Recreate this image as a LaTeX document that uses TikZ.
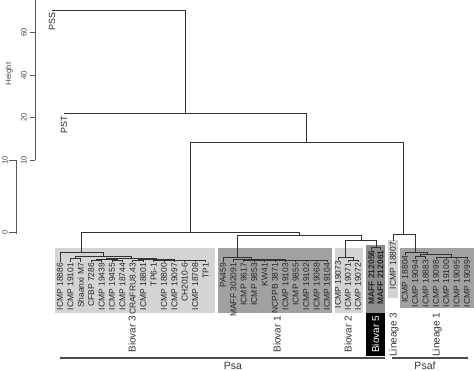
\documentclass[tikz,border=0pt]{standalone}
\usepackage{fontspec}
\setmainfont{Liberation Sans}
\usepackage{tikz}
\usetikzlibrary{arrows}

\begin{document}
\begin{tikzpicture}[x=1pt, y=-1pt, line width=0.8pt]
    \tikzset{
       leaf/.style={rotate=90, anchor=east, inner sep=0.6pt,
                    font=\fontsize{8.5}{9}\selectfont, text=black!85},
       group/.style={rotate=90, anchor=west, inner sep=0pt,
                     font=\fontsize{10}{11}\selectfont, text=black!80},
       tick/.style={rotate=90, inner sep=0pt,
                    font=\fontsize{7.8}{8}\selectfont, text=black!70},
       branch/.style={every edge/.style={draw=black!80, line width=1pt,
                      to path={-| (\tikztotarget)}}},
       axis/.style={draw=black!65, line width=0.9pt},
       clade/.style={draw=black!70, line width=1.4pt},
       light/.style={fill=black!17},
       dark/.style={fill=black!37},
    };
    \useasboundingbox (0,0) rectangle (474,370);
    %--------------------
    % shaded groups
    \fill[light]    (55,248)  rectangle (215,313);
    \fill[dark]     (218,248) rectangle (332,313);
    \fill[light]    (335,248) rectangle (363,313);
    \fill[black!45] (366,245) rectangle (385,313);
    \fill[light]    (388,240) rectangle (398,298);
    \fill[dark]     (400,248) rectangle (474,308);
    %--------------------
    % height axis (broken)
    \coordinate (axTop) at (35,0);
    \coordinate (axBrk) at (35,160);
    \draw[axis] (axTop) -- (axBrk);
    \foreach \v/\y in {60/32, 40/75, 20/117.5, 10/160}
      { \draw[axis] (30,\y) -- (35,\y); \node[tick] at (24,\y) {\v}; }
    \coordinate (axTen) at (16,160);
    \coordinate (axZero) at (16,234);
    \draw[axis] (axTen) -- (axZero);
    \foreach \v/\y in {10/160, 0/232}
      { \draw[axis] (9,\y) -- (16,\y); \node[tick] at (5,\y) {\v}; }
    \node[tick, font=\fontsize{8}{8}\selectfont] (height) at (9,74) {Height};
    %--------------------
    % leaves
    \coordinate (pss) at (52,10);
    \coordinate (pst) at (64,113);
    \node[leaf, font=\fontsize{9}{9}\selectfont] (tpss) at (52,11.5) {PSS};
    \node[leaf, font=\fontsize{9}{9}\selectfont] (tpst) at (64,114.5) {PST};
    \foreach \x/\y/\txt [count=\i] in {
        60/262/ICMP 18886, 70.4/262/ICMP 19101, 80.8/262/Shaanxi M7,
        91.2/262/CFBP 7286, 101.6/262/ICMP 19439, 112/262/ICMP 19455,
        122.4/262/ICMP 18744, 132.8/262/CRAFRU8.43, 143.2/262/ICMP 18801,
        153.6/262/TP6-1, 164/262/ICMP 18800, 174.4/262/ICMP 19097,
        184.8/262/CH2010-6, 195.2/262/ICMP 18708, 205.6/262/TP1,
        223/262/PA459, 233.4/262/MAFF 302091, 243.8/262/ICMP 9617,
        254.2/262/ICMP 9853, 264.6/262/KW41, 275/262/NCPPB 3871,
        285.4/262/ICMP 19103, 295.8/262/ICMP 9855, 306.2/262/ICMP 19102,
        316.6/262/ICMP 19068, 327/262/ICMP 19104,
        338/260/ICMP 19073, 348/262/ICMP 19071, 358/262/ICMP 19072,
        371.5/249.5/\textbf{MAFF 212056}, 380.5/249.5/\textbf{MAFF 212061},
        393/241/ICMP 18807,
        405/254.5/ICMP 18804, 415.3/259/ICMP 19094, 425.7/259/ICMP 18883,
        436/259/ICMP 19098, 446.3/259/ICMP 19100, 456.7/259/ICMP 19095,
        467/259/ICMP 19099}
      { \coordinate (l\i) at (\x,\y); \node[leaf] (t\i) at (l\i) {\txt}; }
    %--------------------
    % merges
    \coordinate (root) at (118,10);
    \coordinate (n1)   at (185,113);
    \coordinate (n2)   at (306,142);
    \coordinate (psa)  at (190,232);
    \coordinate (psaf) at (403,234);
    \coordinate (n3)   at (299,235);
    \coordinate (n4)   at (361,240);
    % biovar 3
    \coordinate (b3)   at (81.5,252);
    \coordinate (b3r)  at (103,256);
    \coordinate (p1)   at (75.6,258.5);
    \coordinate (b3s)  at (131,258);
    \coordinate (g1)   at (106.8,259.8);
    \coordinate (g2)   at (156,259.5);
    \coordinate (q1)   at (96.4,260.8);
    \coordinate (q2)   at (117.2,260.8);
    \coordinate (q3)   at (138,260.8);
    \coordinate (q4)   at (174.6,260);
    \coordinate (r1)   at (158.8,260.8);
    \coordinate (r2)   at (190,260.8);
    % biovar 1, 2, 5
    \coordinate (b1)   at (237,257);
    \coordinate (b1r)  at (251,259);
    \coordinate (b1s)  at (285,260.5);
    \coordinate (b2)   at (345.5,257.5);
    \coordinate (p2)   at (353,260);
    \coordinate (b5)   at (376,247);
    % lineage 1
    \coordinate (lin1) at (415,252);
    \coordinate (s1)   at (427,254.5);
    \coordinate (s2)   at (420.5,256.8);
    \coordinate (s3)   at (451.5,257);
    %--------------------
    \path[branch]
          (root) edge (pss)  edge (n1)
          (n1)   edge (pst)  edge (n2)
          (n2)   edge (psa)  edge (psaf)
          (psa)  edge (b3)   edge (n3)
          (n3)   edge (b1)   edge (n4)
          (n4)   edge (b2)   edge (b5)
          (b3)   edge (l1)   edge (b3r)
          (b3r)  edge (p1)   edge (b3s)
          (p1)   edge (l2)   edge (l3)
          (b3s)  edge (g1)   edge (g2)
          (g1)   edge (q1)   edge (q2)
          (q1)   edge (l4)   edge (l5)
          (q2)   edge (l6)   edge (l7)
          (g2)   edge (q3)   edge (q4)
          (q3)   edge (l8)   edge (l9)
          (q4)   edge (r1)   edge (r2)
          (r1)   edge (l10)  edge (l11)
          (r2)   edge (l12)  edge (l13) edge (l14) edge (l15)
          (b1)   edge (l16)  edge (b1r)
          (b1r)  edge (l17)  edge (b1s)
          (b1s)  edge (l18)  edge (l19) edge (l20) edge (l21) edge (l22)
                 edge (l23)  edge (l24) edge (l25) edge (l26)
          (b2)   edge (l27)  edge (p2)
          (p2)   edge (l28)  edge (l29)
          (b5)   edge (l30)  edge (l31)
          (psaf) edge (l32)  edge (lin1)
          (lin1) edge (l33)  edge (s1)
          (s1)   edge (s2)   edge (s3)
          (s2)   edge (l34)  edge (l35)
          (s3)   edge (l36)  edge (l37) edge (l38) edge (l39)
    ;
    %--------------------
    % group labels
    \node[group] (bv3) at (132,353) {Biovar 3};
    \node[group] (bv1) at (277,353) {Biovar 1};
    \node[group] (bv2) at (348,353) {Biovar 2};
    \node[group, anchor=center, fill=black, text=white,
          minimum width=43, minimum height=19] (bv5) at (375.5,334.5) {Biovar 5};
    \node[group] (ln3) at (394,357) {Lineage 3};
    \node[group] (ln1) at (437,357) {Lineage 1};
    %--------------------
    \coordinate (psaL)  at (60,358);
    \coordinate (psaR)  at (385,358);
    \coordinate (psafL) at (392,358);
    \coordinate (psafR) at (468,358);
    \draw[clade] (psaL) -- (psaR);
    \draw[clade] (psafL) -- (psafR);
    \node[font=\fontsize{10.5}{11}\selectfont, text=black!80] (psaT)  at (233,365.5) {Psa};
    \node[font=\fontsize{10.5}{11}\selectfont, text=black!80] (psafT) at (425,365.5) {Psaf};
\end{tikzpicture}
\end{document}
